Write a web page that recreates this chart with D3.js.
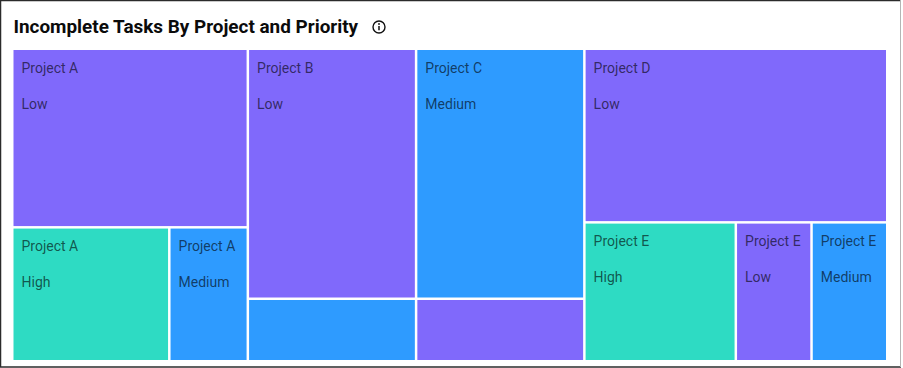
<!DOCTYPE html>
<html>
<head>
<meta charset="utf-8">
<script src="https://cdn.jsdelivr.net/npm/d3@7"></script>
<style>
  html, body { margin: 0; padding: 0; background: #fff; }
  svg { display: block; font-family: Roboto, sans-serif; }
</style>
</head>
<body>
<div id="chart"></div>
<script>
  const projects = ['Project A', 'Project B', 'Project C', 'Project D', 'Project E'];
  const projectPriorities = [
    ['Low', 'High', 'Medium'],
    ['Low', 'Medium'],
    ['Medium', 'Low'],
    ['Low'],
    ['High', 'Low', 'Medium']
  ];
  const projectTasks = [
    [4, 2, 1],
    [4, 1],
    [4, 1],
    [5],
    [2, 1, 1]
  ];
  const priorityColors = { Low: '#8069fb', High: '#2edbc3', Medium: '#2e9bff' };

  const w = 903, h = 368;
  const svg = d3.select('#chart').append('svg').attr('width', w).attr('height', h);

  // outer frame of the screenshot
  svg.append('path')
    .attr('d', 'M0.5,367V0.5H901')
    .attr('fill', 'none')
    .attr('stroke', '#2b2b2b')
    .attr('stroke-width', 1.5);
  svg.append('path')
    .attr('d', 'M0,367H901')
    .attr('fill', 'none')
    .attr('stroke', '#2b2b2b')
    .attr('stroke-width', 1.5);
  svg.append('path')
    .attr('d', 'M900.5,0V367')
    .attr('fill', 'none')
    .attr('stroke', '#b5b5b5')
    .attr('stroke-width', 1);

  svg.append('text')
    .attr('x', 13.5)
    .attr('y', 33)
    .attr('font-size', 18.9)
    .attr('font-weight', 700)
    .attr('fill', '#0b0b0b')
    .text('Incomplete Tasks By Project and Priority');

  // info icon
  const info = svg.append('g').attr('transform', 'translate(379,27)');
  info.append('circle').attr('r', 6).attr('fill', 'none').attr('stroke', '#111').attr('stroke-width', 1.4);
  info.append('line').attr('y1', -1).attr('y2', 3.2).attr('stroke', '#111').attr('stroke-width', 1.5);
  info.append('circle').attr('cy', -3).attr('r', 0.9).attr('fill', '#111');

  const rootData = {
    name: 'root',
    children: projects.map((name, i) => ({
      name,
      children: projectPriorities[i].map((priority, j) => ({
        name,
        priority,
        value: projectTasks[i][j]
      }))
    }))
  };

  const root = d3.hierarchy(rootData).sum(d => d.value || 0);

  d3.treemap()
    .tile(d3.treemapSquarify.ratio(1))
    .size([872.5, 310])
    .paddingInner(2.5)(root);

  const plot = svg.append('g').attr('transform', 'translate(13.5,50)');

  const cells = plot.selectAll('g.cell')
    .data(root.leaves())
    .join('g')
    .attr('class', 'cell')
    .attr('transform', d => `translate(${d.x0},${d.y0})`);

  cells.append('rect')
    .attr('width', d => d.x1 - d.x0)
    .attr('height', d => d.y1 - d.y0)
    .attr('fill', d => priorityColors[d.data.priority]);

  // short cells have no room for the two labels
  const labelled = cells.filter(d => d.y1 - d.y0 > 90);

  labelled.append('text')
    .attr('x', 8)
    .attr('y', 22.5)
    .attr('font-size', 14)
    .attr('fill', 'rgba(0,0,0,0.62)')
    .text(d => d.data.name);

  labelled.append('text')
    .attr('x', 8)
    .attr('y', 58.5)
    .attr('font-size', 14)
    .attr('fill', 'rgba(0,0,0,0.62)')
    .text(d => d.data.priority);
</script>
</body>
</html>
